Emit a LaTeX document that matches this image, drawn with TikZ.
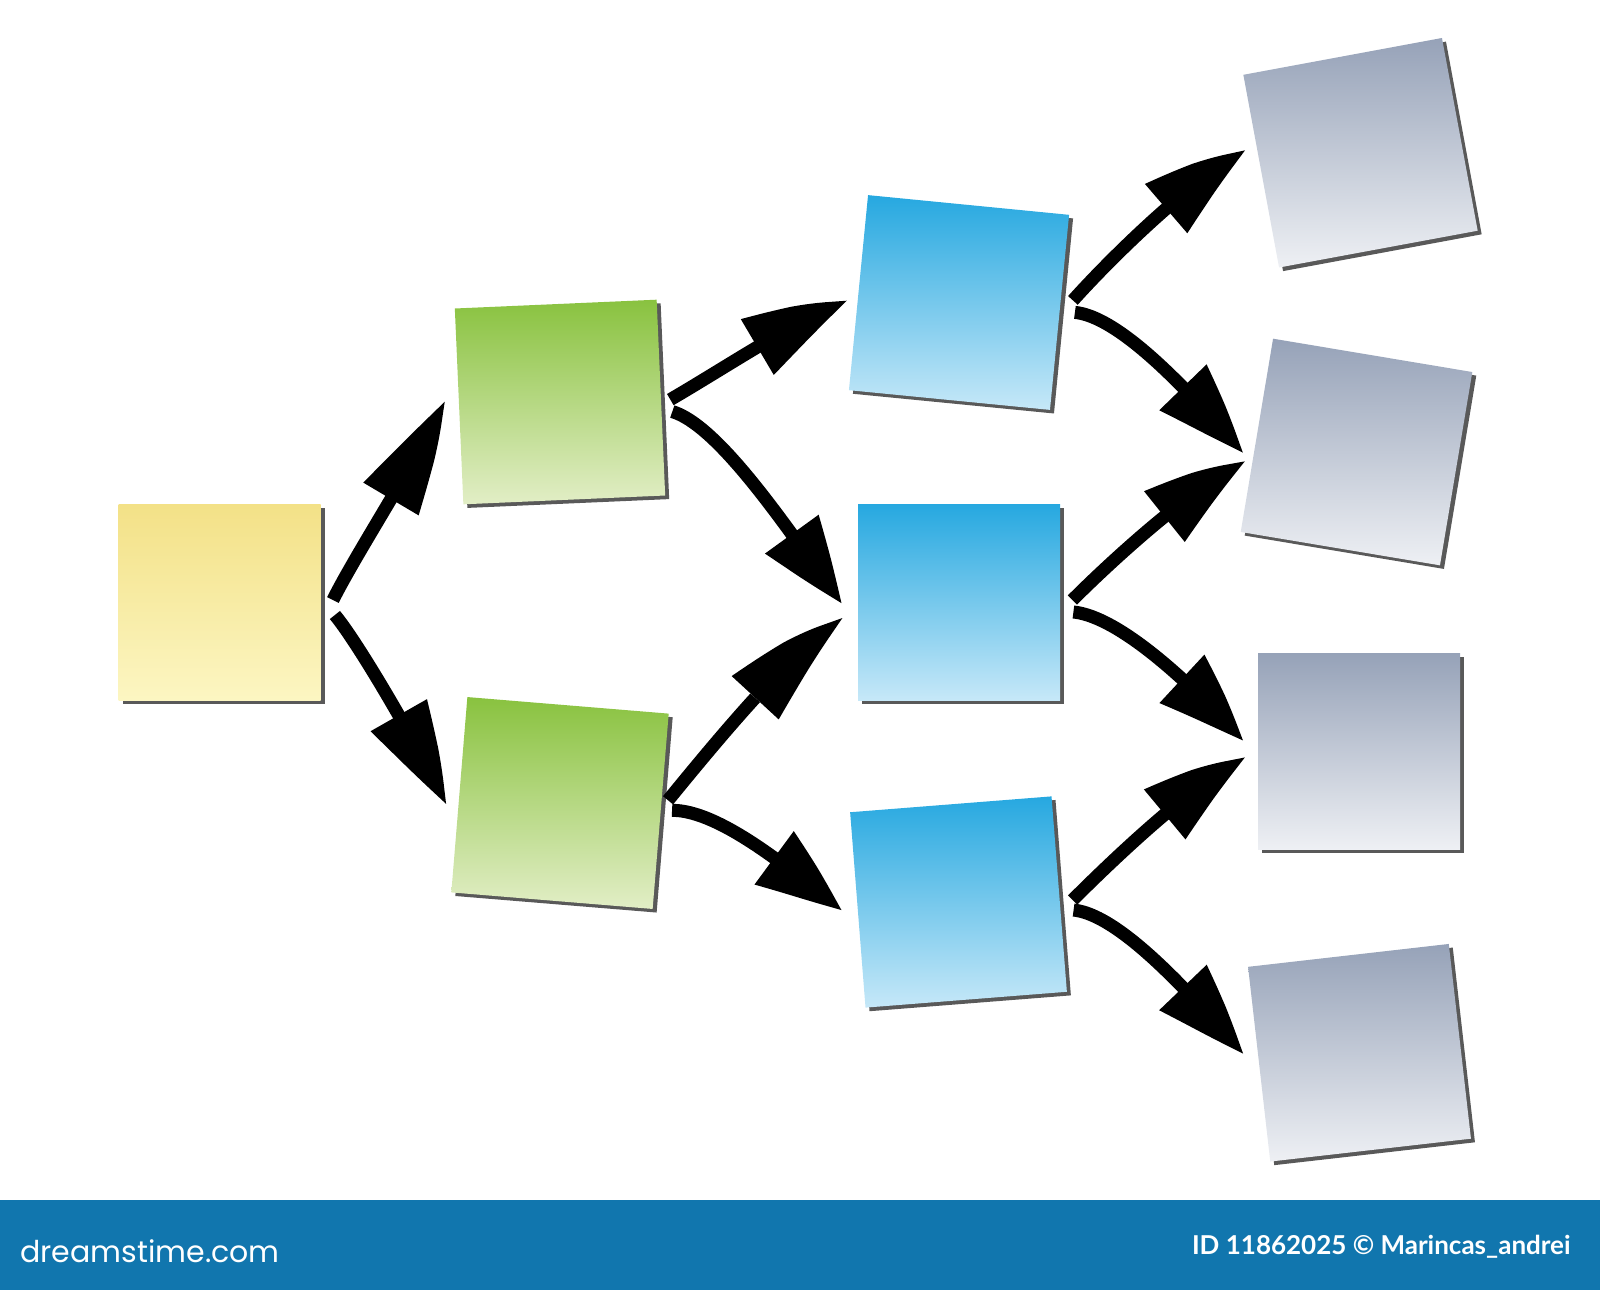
\documentclass[tikz,border=0pt]{standalone}
\usepackage{fontspec}
\newfontfamily\logofont{Poppins}
\newfontfamily\idfont{Lato}
\usetikzlibrary{arrows.meta,bending,shadows,calc}
\definecolor{yeltop}{RGB}{243,225,135}
\definecolor{yelbot}{RGB}{252,246,194}
\definecolor{grntop}{RGB}{137,194,63}
\definecolor{grnbot}{RGB}{226,238,198}
\definecolor{blutop}{RGB}{38,168,224}
\definecolor{blubot}{RGB}{198,232,248}
\definecolor{grytop}{RGB}{150,162,184}
\definecolor{grybot}{RGB}{238,240,244}
\definecolor{footblue}{RGB}{17,118,174}
\tikzset{
  note/.style={minimum width=101pt, minimum height=98pt, inner sep=0pt,
    drop shadow={shadow xshift=2pt, shadow yshift=-1.8pt, fill=black!65, opacity=1}},
  yelnote/.style={note, top color=yeltop, bottom color=yelbot},
  grnnote/.style={note, top color=grntop, bottom color=grnbot},
  blunote/.style={note, top color=blutop, bottom color=blubot},
  grynote/.style={note, top color=grytop, bottom color=grybot},
  arr/.style={line width=6.5pt, -{Triangle[length=38pt,width=32pt,bend]}},
  foot/.style={text=white, inner sep=0pt}
}

\begin{document}
\begin{tikzpicture}[x=0.5pt,y=-0.5pt]
	\useasboundingbox (0,0) rectangle (1600,1290);
	\fill[footblue] (0,1200) rectangle (1600,1290);
	\node[yelnote] (y) at (219.5,602) {};
	\node[grnnote, rotate=2.5] (ga) at (560,402) {};
	\node[grnnote, rotate=-4.7] (gb) at (560,803) {};
	\node[blunote, rotate=-5.6] (ba) at (959,302.5) {};
	\node[blunote] (bb) at (959,602) {};
	\node[blunote, rotate=4.5] (bc) at (958.5,902) {};
	\node[grynote, rotate=10.5] (sa) at (1360.5,152.75) {};
	\node[grynote, rotate=-9.5] (sb) at (1356.5,452) {};
	\node[grynote] (sc) at (1359,751.5) {};
	\node[grynote, rotate=6.5] (sd) at (1359.5,1052.75) {};
	\draw[arr] ($(y.east)+(12,-2)$) .. controls +(25,-50) and +(-15,40) .. ($(ga.west)+(-16,-3)$);
	\draw[arr] ($(y.east)+(14,13)$) .. controls +(25,30) and +(-20,-45) .. ($(gb.west)+(-14,8)$);
	\draw[arr] ($(ga.east)+(9,2)$) .. controls +(60,-35) and +(-40,11) .. ($(ba.west)+(-12,10)$);
	\draw[arr] ($(ga.east)+(11,14)$) .. controls +(50,15) and +(-45,-60) .. ($(bb.west)+(-16,1)$);
	\draw[arr] ($(gb.east)+(7,-11)$) .. controls +(45,-55) and +(-40,15) .. ($(bb.west)+(-16,20)$);
	\draw[arr] ($(gb.east)+(11,-1)$) .. controls +(50,0) and +(-45,-35) .. ($(bc.west)+(-16,0)$);
	\draw[arr] ($(ba.east)+(13,-12)$) .. controls +(45,-50) and +(-45,20) .. ($(sa.west)+(-16,-19)$);
	\draw[arr] ($(ba.east)+(15,0)$) .. controls +(50,5) and +(-40,-45) .. ($(sb.west)+(-14,17)$);
	\draw[arr] ($(bb.east)+(12,-2)$) .. controls +(45,-45) and +(-45,18) .. ($(sb.west)+(-12,28)$);
	\draw[arr] ($(bb.east)+(13,10)$) .. controls +(50,5) and +(-40,-45) .. ($(sc.west)+(-15,-11)$);
	\draw[arr] ($(bc.east)+(13,6)$) .. controls +(45,-45) and +(-45,18) .. ($(sc.west)+(-13,8)$);
	\draw[arr] ($(bc.east)+(14,16)$) .. controls +(50,5) and +(-40,-45) .. ($(sd.west)+(-16,-11)$);
	\node[foot, anchor=base west, font=\logofont\fontsize{15}{15}\selectfont] (logo) at (20,1262) {dreamstime.com};
	\node[foot, anchor=base east, font=\idfont\bfseries\fontsize{13}{13}\selectfont] (id) at (1571,1254) {ID 11862025 © Marincas\_andrei};
\end{tikzpicture}
\end{document}
